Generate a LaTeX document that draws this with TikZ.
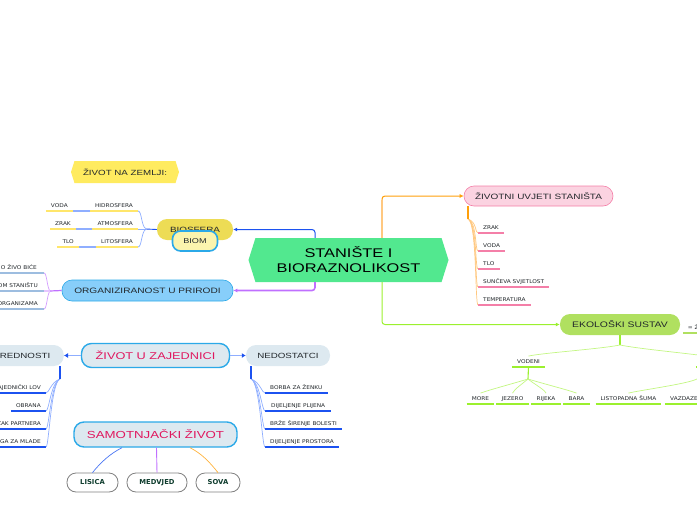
\documentclass[tikz,border=0pt]{standalone}
\usepackage{fontspec}
\usetikzlibrary{arrows.meta,shapes.symbols}
\newfontfamily\widefont[FakeStretch=1.3]{Liberation Sans}
\newfontfamily\tagfont[FakeStretch=1.12]{DejaVu Sans}
\setmainfont{DejaVu Sans}
\definecolor{mintfill}{HTML}{52E88F}
\definecolor{yellowfill}{HTML}{FFEB5F}
\definecolor{biofill}{HTML}{EDDC55}
\definecolor{biomfill}{HTML}{FBF4AE}
\definecolor{skyfill}{HTML}{87CEFA}
\definecolor{pinkfill}{HTML}{FBD3E1}
\definecolor{pinkline}{HTML}{F47FA8}
\definecolor{limefill}{HTML}{B0E060}
\definecolor{limeline}{HTML}{9BF02E}
\definecolor{palefill}{HTML}{DDE9F0}
\definecolor{framecol}{HTML}{2BA9E8}
\definecolor{rosetext}{HTML}{E0185F}
\definecolor{inktext}{HTML}{22272B}
\definecolor{pinetext}{HTML}{0F3D2E}
\definecolor{linkblue}{HTML}{1C52F0}
\definecolor{softblue}{HTML}{8FAEFF}
\definecolor{linkpurple}{HTML}{C070FF}
\definecolor{linkorange}{HTML}{FF9F0A}
\definecolor{softorange}{HTML}{FFC880}
\definecolor{steelline}{HTML}{9DBDE0}
\definecolor{softyellow}{HTML}{FFE66B}
\tikzset{
  pill/.style={rectangle,rounded corners=10,align=center,inner sep=0,text=inktext,font=\widefont\fontsize{8}{10}\selectfont},
  tag/.style={inner xsep=5,inner ysep=3,text height=4,text depth=0.5,text=inktext,font=\tagfont\fontsize{5.2}{6}\selectfont},
  animal/.style={rectangle,rounded corners=9,draw=gray,line width=0.8,fill=white,minimum height=19,text=pinetext,font=\bfseries\fontsize{6.8}{8}\selectfont},
  tipline/.style={line width=1,rounded corners=3,-{Latex[length=4,width=4]}},
  under/.style={line width=1.1}
}
\begin{document}
\begin{tikzpicture}[x=1pt,y=-1pt]
\useasboundingbox (0,0) rectangle (697,520);

% middle
\node[signal,signal to=east and west,signal pointer angle=145,fill=mintfill,minimum width=200,minimum height=44,inner sep=0,align=center,text=black,font=\widefont\fontsize{12.6}{15}\selectfont] (stan) at (348.5,260) {STANIŠTE I\\BIORAZNOLIKOST};
\node[signal,signal to=east and west,signal pointer angle=145,fill=yellowfill,minimum width=108,minimum height=22,inner sep=0,text=inktext,font=\widefont\fontsize{7.5}{10}\selectfont] (zemlja) at (125,172) {ŽIVOT NA ZEMLJI:};

% left branch
\node[pill,fill=biofill,minimum width=76,minimum height=21,font=\widefont\fontsize{7.6}{10}\selectfont] (bio) at (195,229.5) {BIOSFERA};
\node[pill,fill=skyfill,draw=framecol,line width=0.6,minimum width=171,minimum height=21,font=\widefont\fontsize{7.8}{10}\selectfont] (org) at (147.5,290.5) {ORGANIZIRANOST U PRIRODI};
\node[pill,rounded corners=8,fill=biomfill,draw=framecol,line width=1.6,minimum width=45,minimum height=20,font=\widefont\fontsize{7}{8}\selectfont] (biom) at (195,241) {BIOM};
\draw[tipline,linkblue] ([xshift=-33.5]stan.north) |- (bio.east);
\draw[tipline,linkpurple,line width=1.6] ([xshift=-33.5]stan.south) |- (org.east);

% biosfera leaves
\coordinate (biohub) at (146,229);
\foreach \nm/\near/\w/\y in {hid/HIDROSFERA/41/211,atm/ATMOSFERA/41/229,lit/LITOSFERA/40/247}{
  \node[tag,anchor=south east,minimum width=\w] (\nm) at (138,\y) {\near};
}
\node[tag,anchor=south east,minimum width=25] (voda) at (73,211) {VODA};
\node[tag,anchor=south east,minimum width=24] (zrak) at (76,229) {ZRAK};
\node[tag,anchor=south east,minimum width=20] (tlo) at (79,247) {TLO};
\foreach \a/\b in {hid/voda,atm/zrak,lit/tlo}{
  \draw[under,softyellow] (\a.south west) -- (\a.south east);
  \draw[under,softyellow] (\b.south west) -- (\b.south east);
  \draw[under,softblue] (\a.south west) -- (\b.south east);
}
\draw[softblue,line width=0.7] (biohub) .. controls +(-5,-3) and +(4,0) .. (hid.south east);
\draw[softblue,line width=0.7] (biohub) .. controls +(-5,3) and +(4,0) .. (lit.south east);
\draw[softblue,line width=0.7] (biohub) -- (atm.south east);
\draw[linkblue,line width=0.9] (bio.west) -- (biohub);

% organiziranost leaves
\coordinate (orghub) at (50,291);
\node[tag,anchor=south east,inner xsep=7] (l1) at (44,273) {O ŽIVO BIĆE};
\node[tag,anchor=south east,inner xsep=6] (l2) at (44,291) {OM STANIŠTU};
\node[tag,anchor=south east,inner xsep=6] (l3) at (44,309) {ORGANIZAMA};
\foreach \n in {l1,l2,l3}{
  \draw[under,steelline] (0,0 |- \n.south) -- (\n.south east);
}
\draw[linkpurple!70,line width=0.7] (orghub) .. controls +(-3,-3) and +(3,0) .. (l1.south east);
\draw[linkpurple!70,line width=0.7] (orghub) .. controls +(-3,3) and +(3,0) .. (l3.south east);
\draw[linkpurple!40,line width=1.2] (orghub) -- (l2.south east);
\draw[linkpurple,line width=1.2] (org.west) -- (orghub);

% zajednica
\node[pill,fill=palefill,draw=framecol,line width=1.4,minimum width=148,minimum height=24,text=rosetext,font=\widefont\fontsize{9.8}{11}\selectfont] (zaj) at (155.5,355.5) {ŽIVOT U ZAJEDNICI};
\node[pill,fill=palefill,minimum width=84,minimum height=21,anchor=east,font=\widefont\fontsize{7.5}{10}\selectfont] (pred) at (64,355.5) {PREDNOSTI};
\node[pill,fill=palefill,minimum width=84,minimum height=21,font=\widefont\fontsize{7.5}{10}\selectfont] (ned) at (288,355.5) {NEDOSTATCI};
\draw[softblue,line width=1.2,-{Latex[length=4,width=5,color=linkblue]}] (zaj.west) -- (pred.east);
\draw[softblue,line width=1.2,-{Latex[length=4,width=5,color=linkblue]}] (zaj.east) -- (ned.west);

\coordinate (predtop) at (60,366);
\coordinate (predhub) at (60,379);
\node[tag,anchor=south east] (p1) at (46,393) {ZAJEDNIČKI LOV};
\node[tag,anchor=south east,minimum width=33] (p2) at (46,411) {OBRANA};
\node[tag,anchor=south east] (p3) at (46,429) {PRONALAZAK PARTNERA};
\node[tag,anchor=south east] (p4) at (46,447) {BRIGA ZA MLADE};
\foreach \n in {p1,p2,p3,p4}{
  \draw[under,linkblue] (\n.south west) -- (\n.south east);
  \draw[softblue,line width=0.7] (predhub) .. controls +(-9,3) and +(3,0) .. (\n.south east);
}
\draw[linkblue,line width=1.4] (predtop) -- (predhub);

\coordinate (nedtop) at (251,366);
\coordinate (nedhub) at (251,379);
\node[tag,anchor=south west,minimum width=59] (n1) at (265,393) {BORBA ZA ŽENKU};
\node[tag,anchor=south west,minimum width=66] (n2) at (265,411) {DIJELJENJE PLIJENA};
\node[tag,anchor=south west,minimum width=75] (n3) at (265,429) {BRŽE ŠIRENJE BOLESTI};
\node[tag,anchor=south west,minimum width=73] (n4) at (265,447) {DIJELJENJE PROSTORA};
\foreach \n in {n1,n2,n3,n4}{
  \draw[under,linkblue] (\n.south west) -- (\n.south east);
  \draw[softblue,line width=0.7] (nedhub) .. controls +(9,3) and +(-3,0) .. (\n.south west);
}
\draw[linkblue,line width=1.4] (nedtop) -- (nedhub);

% samotnjacki
\node[pill,fill=palefill,draw=framecol,line width=1.4,minimum width=163,minimum height=25,text=rosetext,font=\widefont\fontsize{10.2}{11}\selectfont] (sam) at (155.5,434.5) {SAMOTNJAČKI ŽIVOT};
\node[animal,minimum width=51] (lis) at (92.5,482.5) {LISICA};
\node[animal,minimum width=60] (med) at (157,482.5) {MEDVJED};
\node[animal,minimum width=44] (sov) at (218,482.5) {SOVA};
\draw[linkblue!80,line width=0.7] ([xshift=-33.5]sam.south) .. controls +(-12,6) and +(8,-10) .. (lis.north);
\draw[linkpurple,line width=0.9] ([xshift=1]sam.south) -- (med.north);
\draw[linkorange!80,line width=0.7] ([xshift=34.5]sam.south) .. controls +(12,6) and +(-8,-10) .. (sov.north);

% uvjeti
\node[pill,fill=pinkfill,draw=pinkline,line width=0.6,minimum width=149,minimum height=20,font=\widefont\fontsize{7.7}{10}\selectfont] (uvj) at (538.5,196) {ŽIVOTNI UVJETI STANIŠTA};
\draw[tipline,linkorange] ([xshift=33.5]stan.north) |- (uvj.west);
\draw[softorange,line width=1.4] ([xshift=33.5]stan.north) -- ++(0,-38);
\coordinate (uvjtop) at (468,206);
\coordinate (uvjhub) at (468,219);
\foreach \n/\t/\w/\y in {u1/ZRAK/24/233,u2/VODA/25/251,u3/TLO/20/269,u4/SUNČEVA SVJETLOST/69/287,u5/TEMPERATURA/50/305}{
  \node[tag,anchor=south west,minimum width=\w] (\n) at (478,\y) {\t};
  \draw[under,pinkline] (\n.south west) -- (\n.south east);
  \draw[softorange,line width=0.7] (uvjhub) .. controls +(9,3) and +(-3,0) .. (\n.south west);
}
\draw[linkorange,line width=1.2] (uvjtop) -- (uvjhub);

% ekoloski
\node[pill,fill=limefill,minimum width=120,minimum height=21] (eko) at (620,324.5) {EKOLOŠKI SUSTAV};
\draw[tipline,limeline] ([xshift=33.5]stan.south) |- (eko.west);
\node[tag,anchor=south west,inner xsep=3,minimum width=20] (jed) at (683,333) {= Ž};
\draw[under,limefill] (jed.south west) -- (jed.south east);

\coordinate (ekohub) at (620,345);
\coordinate (vodhub) at (528,379);
\coordinate (kophub) at (697,379);
\node[tag,minimum width=31,anchor=south] (vod) at (528.5,367) {VODENI};
\node[tag,minimum width=20,anchor=south] (kop) at (706,367) {};
\draw[limeline,line width=1.1] (eko.south) -- (ekohub);
\draw[under,limeline] (vod.south west) -- (vod.south east);
\draw[under,limeline] (kop.south west) -- (kop.south east);
\draw[limeline!60,line width=0.7] (ekohub) .. controls +(-20,4) and +(12,-3) .. (vod.north);
\draw[limeline!60,line width=0.7] (ekohub) .. controls +(20,4) and +(-20,-3) .. (kop.north);
\draw[limeline,line width=1.1] (vod.south) -- (vodhub);

\foreach \n/\t/\x/\w/\ca/\cb/\da/\db in {m1/MORE/480.5/25/-20/6/8/-3,m2/JEZERO/512.5/31/-6/5/2/-4,m3/RIJEKA/546/28/6/5/-2/-4,m4/BARA/576.5/25/20/6/-8/-3}{
  \node[tag,minimum width=\w,anchor=south] (\n) at (\x,404) {\t};
  \draw[under,limeline] (\n.south west) -- (\n.south east);
  \draw[limeline!60,line width=0.7] (vodhub) .. controls +(\ca,\cb) and +(\da,\db) .. (\n.north);
}
\node[tag,minimum width=63,anchor=south] (s1) at (628.5,404) {LISTOPADNA ŠUMA};
\node[tag,minimum width=63,anchor=south west] (s2) at (665,404) {VAZDAZELENA ŠUMA};
\foreach \n in {s1,s2}{
  \draw[under,limeline] (\n.south west) -- (\n.south east);
}
\draw[limeline!60,line width=0.7] (kophub) .. controls +(-10,5) and +(12,-3) .. (s1.north);
\end{tikzpicture}
\end{document}
